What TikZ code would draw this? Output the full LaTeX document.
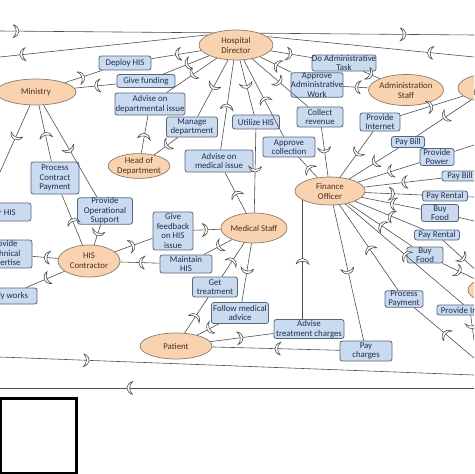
\documentclass[tikz,border=0pt]{standalone}
\usepackage{fontspec}
\setmainfont{Carlito}
\usetikzlibrary{shapes.geometric, decorations.markings}

\definecolor{actorfill}{HTML}{F9D3B0}
\definecolor{actorline}{HTML}{8C7C6C}
\definecolor{actortext}{HTML}{4A3020}
\definecolor{taskfill}{HTML}{CADBF0}
\definecolor{taskline}{HTML}{56677E}
\definecolor{tasktext}{HTML}{1F2F4F}
\definecolor{wire}{HTML}{4D4D4D}

\def\pxu{0.85pt}
\newcommand{\chev}{\draw[wire, fill=white, line width=0.5pt] (-4pt,5.5pt) .. controls (2.5pt,3.5pt) and (2.5pt,-3.5pt) .. (-4pt,-5.5pt) .. controls (-0.6pt,-2.5pt) and (-0.6pt,2.5pt) .. (-4pt,5.5pt);}

\tikzset{
  actor/.style={ellipse, draw=actorline, fill=actorfill, line width=0.6pt, text=actortext, align=center, inner sep=0pt, font=\fontsize{7.5}{8.5}\selectfont},
  task/.style={rectangle, rounded corners=2pt, draw=taskline, fill=taskfill, line width=0.7pt, text=tasktext, align=center, inner sep=0pt, font=\fontsize{7.5}{8}\selectfont},
  size/.style 2 args={minimum width=#1*\pxu, minimum height=#2*\pxu},
  flow/.style={wire, line width=0.5pt, decoration={markings, mark=at position #1 with {\chev}}, postaction=decorate},
  flow/.default=0.5
}

\begin{document}
\begin{tikzpicture}[x=0.85pt, y=-0.85pt]
    \clip (0,0) rectangle (474,474);

    % border lines
    \coordinate (topL) at (0,31);
    \coordinate (topC) at (236,33);
    \coordinate (topR) at (474,35);
    \coordinate (midL) at (0,57);
    \coordinate (midR) at (474,57);
    \coordinate (lowL) at (0,357);
    \coordinate (lowR) at (474,375);
    \coordinate (baseL) at (0,388);
    \coordinate (baseR) at (474,388);
    \draw[flow=0.076] (topL) -- (topC);
    \draw[flow=0.71] (topC) -- (topR);
    \draw[flow=0.186] (lowL) -- (lowR);
    \draw[flow=0.73] (baseR) -- (baseL);

    % loose ends
    \coordinate (minL) at (0,172);
    \coordinate (powerR) at (474,145);
    \coordinate (rentalR) at (474,197);
    \coordinate (foodR) at (474,221);
    \coordinate (provIR) at (474,340);
    \coordinate (procR) at (474,358);

    % actors
    \node[actor, size={74}{30}] (director) at (236,45) {Hospital\\Director};
    \node[actor, size={80}{26}] (ministry) at (36,92) {Ministry};
    \node[actor, size={58}{24}] (headdept) at (139,166) {Head of\\Department};
    \node[actor, size={62}{32}] (contractor) at (89,261) {HIS\\Contractor};
    \node[actor, size={62}{30}] (medstaff) at (254,228) {Medical Staff};
    \node[actor, size={70}{28}] (finance) at (330,191) {Finance\\Officer};
    \node[actor, size={72}{26}] (patient) at (176,346) {Patient};
    \node[actor, size={57}{31}] (adminstaff) at (406,90) {Administration\\Staff};
    \node[actor, size={62}{28}] (netprov) at (489,88) {Internet\\Provider};
    \node[actor, size={60}{26}] (rightA) at (498,290) {};

    % activities
    \node[task, size={52}{14}] (deploy) at (125,63) {Deploy HIS};
    \node[task, size={58}{13}] (funding) at (146,81) {Give funding};
    \node[task, size={70}{22}] (advdept) at (150,104) {Advise on\\departmental issue};
    \node[task, size={51}{20}] (manage) at (192,127) {Manage\\department};
    \node[task, size={47}{14}] (utilize) at (256,122) {Utilize HIS};
    \node[task, size={68}{22}] (advmed) at (219,161) {Advise on\\medical issue};
    \node[task, size={52}{20}] (approvecoll) at (289,147) {Approve\\collection};
    \node[task, size={46}{20}] (collect) at (320,117) {Collect\\revenue};
    \node[task, size={50}{24}] (approveadm) at (317,85) {Approve\\Administrative\\Work};
    \node[task, size={58}{16}] (doadmin) at (344,63) {Do Administrative\\Task};
    \node[task, size={40}{18}] (provnet) at (380,122) {Provide\\Internet};
    \node[task, size={33}{11}] (paybillA) at (408,142) {Pay Bill};
    \node[task, size={34}{17}] (power) at (437,157) {Provide\\Power};
    \node[task, size={36}{10}] (paybillB) at (460,176) {Pay Bill};
    \node[task, size={45}{10}] (rentalA) at (445,196) {Pay Rental};
    \node[task, size={37}{17}] (foodA) at (440,213) {Buy\\Food};
    \node[task, size={45}{10}] (rentalB) at (437,235) {Pay Rental};
    \node[task, size={36}{16}] (foodB) at (425,255) {Buy\\Food};
    \node[task, size={38}{16}] (procpay) at (404,299) {Process\\Payment};
    \node[task, size={66}{10}] (provI) at (470,310) {Provide Internet};
    \node[task, size={52}{20}] (paycharges) at (366,351) {Pay\\charges};
    \node[task, size={70}{19}] (advtreat) at (309,329) {Advise\\treatment charges};
    \node[task, size={57}{21}] (follow) at (240,313) {Follow medical\\advice};
    \node[task, size={45}{20}] (gettreat) at (215,287) {Get\\treatment};
    \node[task, size={52}{18}] (maintain) at (186,264) {Maintain\\HIS};
    \node[task, size={40}{38}] (feedback) at (173,231) {Give\\feedback\\on HIS\\issue};
    \node[task, size={55}{26}] (opsupport) at (105,211) {Provide\\Operational\\Support};
    \node[task, size={48}{32}] (contractpay) at (55,178) {Process\\Contract\\Payment};
    \node[task, size={74}{18}] (monitor) at (-6,212) {Monitor HIS};
    \node[task, size={56}{28}] (techexp) at (4,254) {Provide\\Technical\\Expertise};
    \node[task, size={62}{16}] (verify) at (6,296) {Verify works};

    % director links
    \draw[flow=0.9] (director.160) -- (midL);
    \draw[flow=0.22] (midR) -- (director.15);
    \draw[flow] (director) -- (deploy);
    \draw[flow] (ministry) -- (deploy);
    \draw[flow] (director) -- (funding);
    \draw[flow] (funding) -- (ministry);
    \draw[flow] (director) -- (advdept);
    \draw[flow] (headdept) -- (advdept);
    \draw[flow] (director) -- (manage);
    \draw[flow] (manage) -- (headdept);
    \draw[flow] (advmed) -- (director);
    \draw[flow] (medstaff) -- (advmed);
    \draw[flow] (director) -- (utilize);
    \draw[flow] (utilize) -- (medstaff);
    \draw[flow] (approvecoll) -- (director);
    \draw[flow] (finance) -- (approvecoll);
    \draw[flow] (approveadm) -- (director);
    \draw[flow] (adminstaff) -- (approveadm);
    \draw[flow] (director) -- (doadmin);
    \draw[flow] (doadmin) -- (adminstaff);
    \draw[flow] (director) -- (collect);
    \draw[flow] (collect) -- (finance);

    % finance links
    \draw[flow] (provnet) -- (netprov);
    \draw[flow] (provnet) -- (finance);
    \draw[flow] (netprov) -- (paybillA);
    \draw[flow] (paybillA) -- (finance);
    \draw[flow] (power) -- (finance);
    \draw[wire, line width=0.5pt] (power) -- (powerR);
    \draw[flow] (paybillB) -- (finance);
    \draw[flow] (finance) -- (rentalA);
    \draw[wire, line width=0.5pt] (rentalA) -- (rentalR);
    \draw[flow] (foodA) -- (finance);
    \draw[wire, line width=0.5pt] (foodA) -- (foodR);
    \draw[flow] (rentalB) -- (finance);
    \draw[flow] (rentalB) -- (rightA);
    \draw[flow] (foodB) -- (finance);
    \draw[flow] (foodB) -- (rightA);
    \draw[flow] (procpay) -- (finance);
    \draw[flow] (provI) -- (finance);
    \draw[flow] (procR) -- (procpay);
    \draw[flow] (provI) -- (provIR);
    \draw[flow] (finance) -- (paycharges);
    \draw[flow] (advtreat.north -| finance.198) -- (finance.198);

    % patient and medical staff links
    \draw[flow] (patient) -- (advtreat);
    \draw[flow] (paycharges) -- (patient);
    \draw[flow] (follow) -- (patient);
    \draw[flow] (patient) -- (gettreat);
    \draw[flow] (gettreat) -- (medstaff);
    \draw[flow] (medstaff) -- (follow);
    \draw[flow] (feedback) -- (medstaff);
    \draw[flow] (medstaff) -- (maintain);

    % contractor links
    \draw[flow] (contractor) -- (feedback);
    \draw[flow] (maintain) -- (contractor);
    \draw[flow] (opsupport) -- (contractor);
    \draw[flow] (ministry) -- (opsupport);
    \draw[flow] (contractor) -- (contractpay);
    \draw[flow] (contractpay) -- (ministry);
    \draw[flow] (ministry) -- (minL);
    \draw[flow] (contractor) -- (techexp);
    \draw[flow] (contractor) -- (verify);

    % empty frame
    \draw[line width=1.8pt] (0.5,398.5) rectangle (76.5,473);
\end{tikzpicture}
\end{document}
